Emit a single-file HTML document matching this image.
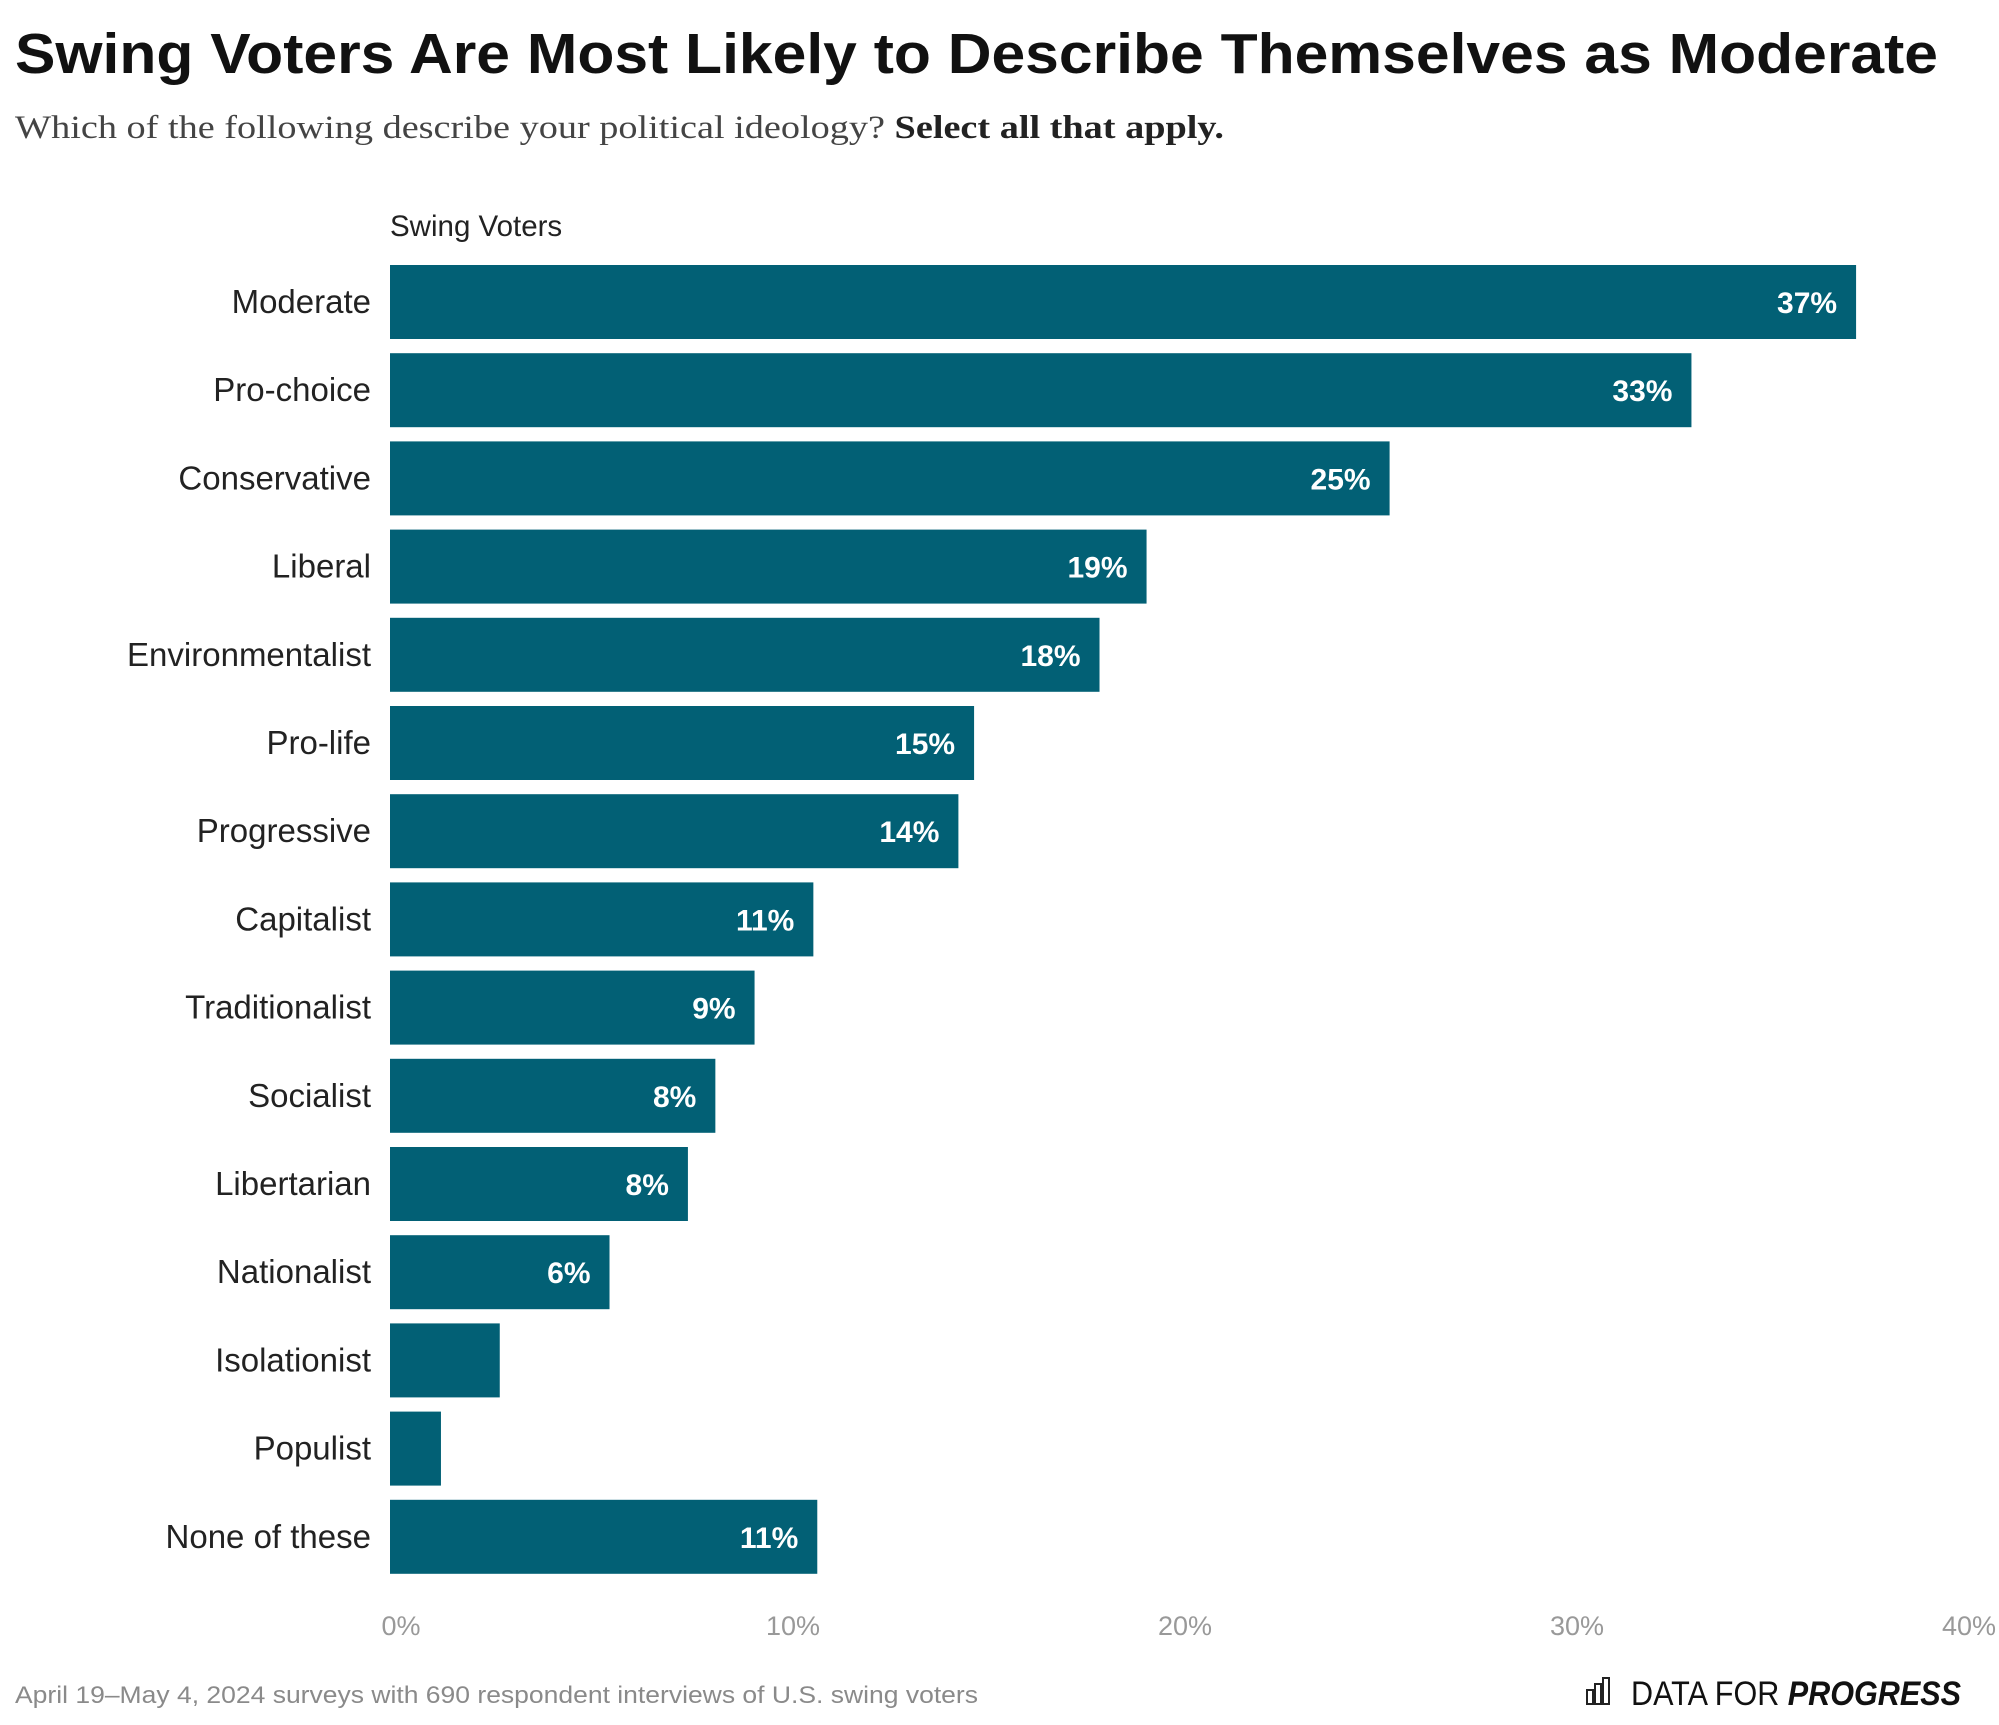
<!DOCTYPE html>
<html><head><meta charset="utf-8"><style>
html,body{margin:0;padding:0;background:#fff;}
svg{display:block;font-family:"Liberation Sans",sans-serif;}
</style></head><body>
<svg id="chart" width="1999" height="1725" viewBox="0 0 1999 1725">
<text x="15" y="73" font-size="57" font-weight="bold" fill="#111" textLength="1923" lengthAdjust="spacingAndGlyphs">Swing Voters Are Most Likely to Describe Themselves as Moderate</text>
<text x="15" y="138" font-size="33" fill="#444" font-family="Liberation Serif, serif" textLength="1209" lengthAdjust="spacingAndGlyphs">Which of the following describe your political ideology? <tspan font-weight="bold" fill="#222">Select all that apply.</tspan></text>
<text x="390" y="236" font-size="29.5" fill="#222">Swing Voters</text>
<g id="bars"></g>
<g id="ticks"></g>
<text x="15" y="1703" font-size="24" fill="#8a8a8a" textLength="963" lengthAdjust="spacingAndGlyphs">April 19–May 4, 2024 surveys with 690 respondent interviews of U.S. swing voters</text>
<g>
<g fill="none" stroke="#222" stroke-width="2"><rect x="1587" y="1690" width="6" height="14"/><rect x="1595" y="1684" width="6" height="20"/><rect x="1603" y="1678" width="6" height="26"/></g>
<text x="1961" y="1705" font-size="34" text-anchor="end" fill="#111" textLength="330" lengthAdjust="spacingAndGlyphs">DATA FOR <tspan font-weight="bold" font-style="italic">PROGRESS</tspan></text>
</g>
</svg>
<script>
const categories=["Moderate","Pro-choice","Conservative","Liberal","Environmentalist","Pro-life","Progressive","Capitalist","Traditionalist","Socialist","Libertarian","Nationalist","Isolationist","Populist","None of these"];
const values=[37.4,33.2,25.5,19.3,18.1,14.9,14.5,10.8,9.3,8.3,7.6,5.6,2.8,1.3,10.9];
const valueLabels=["37%","33%","25%","19%","18%","15%","14%","11%","9%","8%","8%","6%","","","11%"];
const ticks=[0,10,20,30,40];
const tickLabels=["0%","10%","20%","30%","40%"];
const NS="http://www.w3.org/2000/svg";
const x0=390,pxPer=39.2,top0=265,pitch=88.2,bh=74;
const xs=v=>x0+v*pxPer;
const ys=i=>top0+i*pitch;
const bars=document.getElementById('bars');
categories.forEach((c,i)=>{
  const r=document.createElementNS(NS,'rect');
  r.setAttribute('x',x0);r.setAttribute('y',ys(i));
  r.setAttribute('width',xs(values[i])-x0);r.setAttribute('height',bh);
  r.setAttribute('fill','#026075');
  
  
  bars.appendChild(r);
  const t=document.createElementNS(NS,'text');
  t.setAttribute('x',371);t.setAttribute('y',ys(i)+bh/2+11);
  t.setAttribute('text-anchor','end');t.setAttribute('font-size','33');t.setAttribute('fill','#222');
  t.textContent=c;
  
  
  bars.appendChild(t);
  if(valueLabels[i]){
    const v=document.createElementNS(NS,'text');
    v.setAttribute('x',xs(values[i])-19);v.setAttribute('y',ys(i)+bh/2+11);
    v.setAttribute('text-anchor','end');v.setAttribute('font-size','30');v.setAttribute('font-weight','bold');v.setAttribute('fill','#fff');
    v.textContent=valueLabels[i];
    
    
    bars.appendChild(v);
  }
});
const tg=document.getElementById('ticks');
ticks.forEach((k,i)=>{
  const t=document.createElementNS(NS,'text');
  t.setAttribute('x',xs(k)+11);t.setAttribute('y',1635);
  t.setAttribute('text-anchor','middle');t.setAttribute('font-size','27');t.setAttribute('fill','#999');
  t.textContent=tickLabels[i];
  
  
  tg.appendChild(t);
});
</script>
</body></html>
